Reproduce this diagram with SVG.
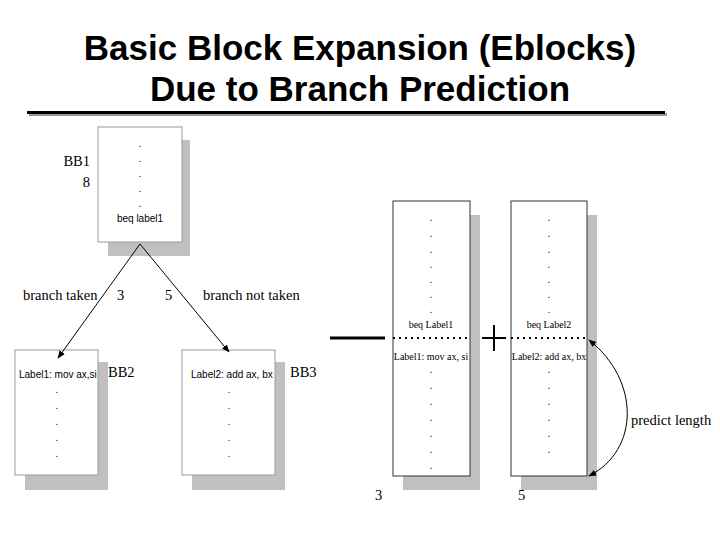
<svg xmlns="http://www.w3.org/2000/svg" width="720" height="540" viewBox="0 0 720 540">
<style>
.t{font-family:"Liberation Sans",Arial,sans-serif;font-weight:bold;font-size:35px;text-anchor:middle;fill:#000}
.s{font-family:"Liberation Serif","Times New Roman",serif;font-size:14.5px;fill:#000}
.c{font-family:"Liberation Sans",Arial,sans-serif;font-size:10px;fill:#000}
.cs{font-family:"Liberation Serif",serif;font-size:10px;fill:#000}
.d{font-family:"Liberation Sans",Arial,sans-serif;font-size:10px;text-anchor:middle;fill:#000}
.box{fill:#fff;stroke:#999;stroke-width:1}
.big{fill:#fff;stroke:#333;stroke-width:1}
.sh{fill:#c0c0c0}
.ln{stroke:#000;stroke-width:1;fill:none}
</style>
<defs><marker id="a" viewBox="0 0 10 10" refX="9" refY="5" markerWidth="8" markerHeight="8" orient="auto-start-reverse"><path d="M0,1 L10,5 L0,9 z" fill="#000"/></marker></defs>
<text class="t" x="360" y="60">Basic Block Expansion (Eblocks)</text>
<text class="t" x="360" y="101">Due to Branch Prediction</text>
<rect x="29" y="113" width="638" height="3" fill="#999"/>
<rect x="27" y="111" width="638" height="3" fill="#000"/>
<g id="bb1"><rect class="sh" x="108" y="140" width="82" height="116"/><rect class="box" x="98" y="127" width="84" height="115"/>
<g class="d"><text x="140" y="147">.</text><text x="140" y="162">.</text><text x="140" y="177">.</text><text x="140" y="192">.</text><text x="140" y="207">.</text></g>
<text class="d" x="140" y="222">beq label1</text>
<text class="s" x="90" y="166" text-anchor="end">BB1</text><text class="s" x="90" y="187" text-anchor="end">8</text></g>
<g id="bb2"><rect class="sh" x="25" y="362" width="83" height="128"/><rect class="box" x="15" y="350" width="83" height="125"/>
<text class="c" x="19" y="378">Label1: mov ax,si</text>
<g class="d"><text x="57" y="393">.</text><text x="57" y="409">.</text><text x="57" y="425">.</text><text x="57" y="441">.</text><text x="57" y="457">.</text></g>
<text class="s" x="108" y="377">BB2</text></g>
<g id="bb3"><rect class="sh" x="192" y="362" width="93" height="128"/><rect class="box" x="182" y="350" width="93" height="125"/>
<text class="c" x="191" y="378">Label2: add ax, bx</text>
<g class="d"><text x="229" y="393">.</text><text x="229" y="409">.</text><text x="229" y="425">.</text><text x="229" y="441">.</text><text x="229" y="457">.</text></g>
<text class="s" x="290" y="377">BB3</text></g>
<g id="eb1"><rect class="sh" x="403" y="215" width="77" height="275"/><rect class="big" x="393" y="201" width="77" height="275"/>
<g class="d"><text x="431" y="221">.</text><text x="431" y="237">.</text><text x="431" y="253">.</text><text x="431" y="268">.</text><text x="431" y="283">.</text><text x="431" y="298">.</text><text x="431" y="313">.</text>
<text x="431" y="373">.</text><text x="431" y="389">.</text><text x="431" y="405">.</text><text x="431" y="421">.</text><text x="431" y="437">.</text><text x="431" y="453">.</text><text x="431" y="469">.</text></g>
<text class="cs" x="431" y="328" text-anchor="middle">beq Label1</text>
<text class="cs" x="431" y="360" text-anchor="middle">Label1: mov ax, si</text>
<line x1="393" y1="338" x2="470" y2="338" stroke="#000" stroke-width="2" stroke-dasharray="2,4"/>
<text class="s" x="375" y="500">3</text></g>
<g id="eb2"><rect class="sh" x="521" y="215" width="76" height="275"/><rect class="big" x="511" y="201" width="76" height="275"/>
<g class="d"><text x="549" y="221">.</text><text x="549" y="237">.</text><text x="549" y="253">.</text><text x="549" y="268">.</text><text x="549" y="283">.</text><text x="549" y="298">.</text><text x="549" y="313">.</text>
<text x="549" y="373">.</text><text x="549" y="389">.</text><text x="549" y="405">.</text><text x="549" y="421">.</text><text x="549" y="437">.</text><text x="549" y="453">.</text></g>
<text class="cs" x="549" y="328" text-anchor="middle">beq Label2</text>
<text class="cs" x="549" y="360" text-anchor="middle">Label2: add ax, bx</text>
<line x1="511" y1="338" x2="587" y2="338" stroke="#000" stroke-width="2" stroke-dasharray="2,4"/>
<text class="s" x="518" y="500">5</text>
<text class="s" x="631" y="425">predict length</text></g>
<g id="plus"><line x1="482" y1="338" x2="506" y2="338" stroke="#000" stroke-width="2"/><line x1="494" y1="325" x2="494" y2="351" stroke="#000" stroke-width="2"/></g>
<g id="connectors">
<line class="ln" x1="140" y1="244" x2="58" y2="358" marker-end="url(#a)"/>
<line class="ln" x1="140" y1="244" x2="229" y2="352" marker-end="url(#a)" stroke-width="0.6"/>
<line x1="330" y1="338" x2="385" y2="338" stroke="#000" stroke-width="3"/>
<path class="ln" d="M589,340 C640,380 640,450 589,476" marker-start="url(#a)" marker-end="url(#a)"/>
</g>
<text class="s" x="23" y="300">branch taken</text>
<text class="s" x="117" y="300">3</text>
<text class="s" x="165" y="300">5</text>
<text class="s" x="203" y="300">branch not taken</text>
</svg>
